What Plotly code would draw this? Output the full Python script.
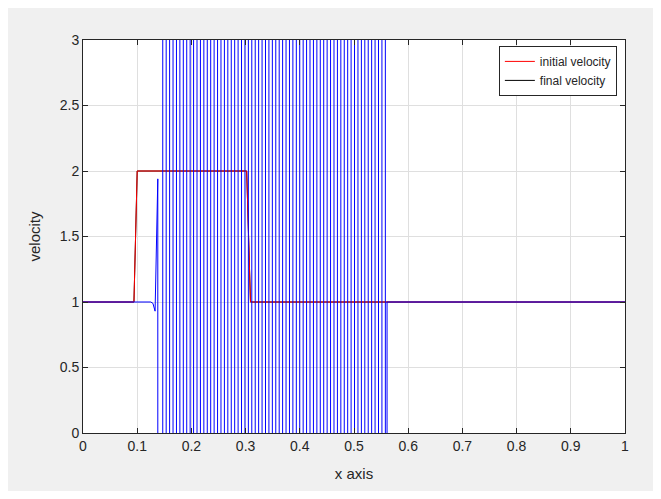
import numpy as np
import plotly.graph_objects as go

# initial velocity (step profile)
x_init = [0, 0.094, 0.1, 0.302, 0.309, 1.0]
v_init = [1, 1, 2, 2, 1, 1]

# final velocity, hidden behind the initial profile
x_final = x_init
v_final = v_init

# blue solution: smooth part before and after the oscillating band
x_pre = [0, 0.125, 0.129, 0.133, 0.138]
v_pre = [1, 1, 0.99, 0.93, 1.94]
x_post = [0.561, 1.0]
v_post = [1, 1]
# oscillating band 0.144..0.561, values alternate between large +/- values
osc_vals = [-1e4, 1e4] * 33 + [-1e4]
x_osc = list(np.linspace(0.144, 0.561, len(osc_vals)))

x_blue = x_pre + x_osc + x_post
v_blue = v_pre + osc_vals + v_post

fig = go.Figure()
fig.add_trace(go.Scatter(x=x_final, y=v_final, mode='lines', name='final velocity',
                         line=dict(color='black', width=1)))
fig.add_trace(go.Scatter(x=x_init, y=v_init, mode='lines', name='initial velocity',
                         line=dict(color='red', width=1)))
fig.add_trace(go.Scatter(x=x_blue, y=v_blue, mode='lines', showlegend=False,
                         line=dict(color='blue', width=1)))

ax = dict(showline=True, linecolor='#262626', linewidth=1, mirror='ticks',
          ticks='inside', ticklen=5, tickcolor='#262626',
          showgrid=True, gridcolor='#dfdfdf', zeroline=False,
          tickfont=dict(size=14, color='#262626'))
fig.update_xaxes(range=[0, 1], dtick=0.1, title_text='x axis',
                 title_font=dict(size=15, color='#262626'), **ax)
fig.update_yaxes(range=[0, 3], dtick=0.5, title_text='velocity',
                 title_font=dict(size=15, color='#262626'), **ax)
fig.update_layout(
    width=645, height=483,
    margin=dict(l=75, r=28, t=32, b=51),
    paper_bgcolor='#f0f0f0', plot_bgcolor='white',
    font=dict(family='Liberation Sans, Arial', color='#262626'),
    legend=dict(x=0.985, y=0.985, xanchor='right', yanchor='top',
                traceorder='reversed', bgcolor='white', bordercolor='#262626',
                borderwidth=1, font=dict(size=12), tracegroupgap=0),
)

fig.write_html("out.html")
